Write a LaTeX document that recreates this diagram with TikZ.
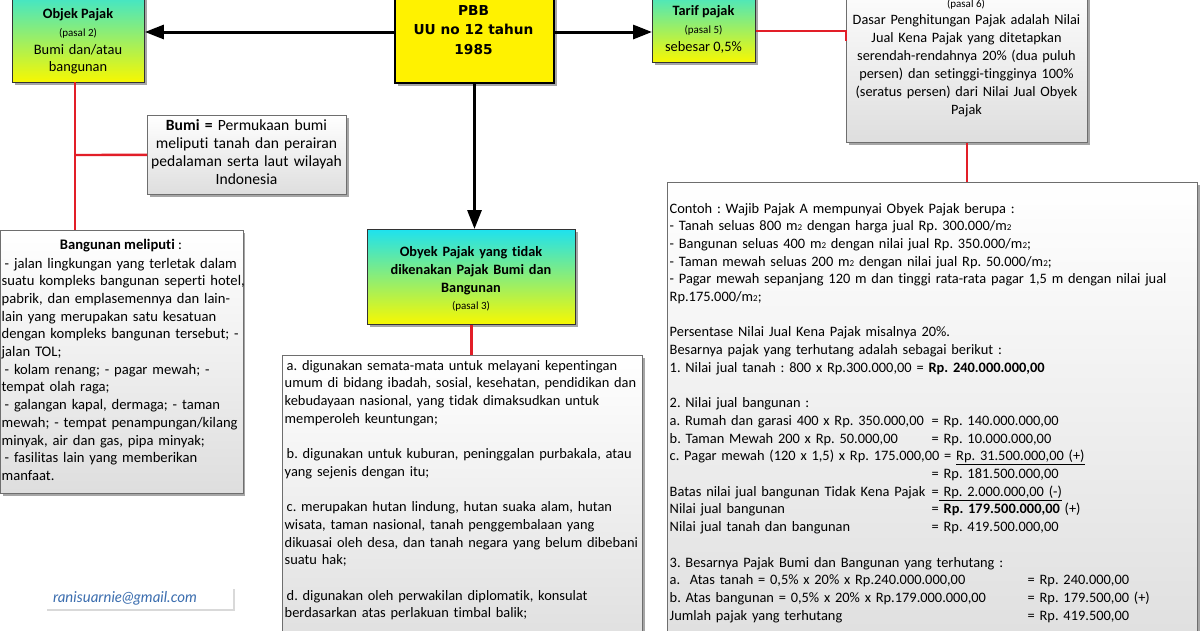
\documentclass[tikz,border=0pt]{standalone}
\usepackage{fontspec}
\setmainfont{Carlito}[Ligatures=NoCommon]
\newfontfamily\pbbfont{DejaVu Sans}
\newfontfamily\mailfont{Lato}
\usetikzlibrary{arrows.meta,shadows}
\frenchspacing
\definecolor{gcyan}{RGB}{30,226,238}
\definecolor{gyellow}{RGB}{248,248,0}
\definecolor{lred}{RGB}{226,30,40}
\definecolor{bordergray}{RGB}{110,110,110}
\definecolor{mailblue}{RGB}{60,110,175}
\newcommand{\msq}{m{\fontsize{9}{9}\selectfont 2}}
\newcommand{\colA}[1]{\makebox[262pt][l]{#1}}
\newcommand{\colB}[1]{\makebox[358pt][l]{#1}}
\tikzset{
  shad/.style={drop shadow={shadow xshift=2.5pt,shadow yshift=-2.5pt,fill=black,opacity=.35}},
  gradbox/.style={draw=black!80,line width=0.9pt,top color=gcyan,bottom color=gyellow,shad,inner sep=0pt,anchor=north west},
  graybox/.style={draw=bordergray,line width=0.7pt,top color=white,bottom color=black!13,shad,inner sep=0pt,anchor=north west},
  pbbbox/.style={draw=black,line width=2pt,fill=yellow,shad,inner sep=0pt,anchor=north west},
  arr/.style={line width=3pt,-{Triangle[length=19pt,width=14pt]}},
  redline/.style={draw=lred,line width=2.4pt},
  body/.style={font=\fontsize{14.4}{17.7}\selectfont,inner sep=0pt},
  tit/.style={font=\fontsize{14.3}{17.7}\selectfont\bfseries,inner sep=0pt},
  pasal/.style={font=\fontsize{11}{13}\selectfont,inner sep=0pt},
  pbbtxt/.style={font=\pbbfont\bfseries\fontsize{13.7}{16}\selectfont,inner sep=0pt,anchor=base},
}
\begin{document}
\begin{tikzpicture}[x=1pt,y=-1pt]
\useasboundingbox (0,0) rectangle (1200,630);
\fill[white] (0,0) rectangle (1200,630);
\clip (0,0) rectangle (1200,630);
% ---------- boxes
\node[gradbox,minimum width=132pt,minimum height=102pt] (objek) at (12,-20) {};
\node[pbbbox,minimum width=159pt,minimum height=102pt] (pbb) at (394,-20) {};
\node[gradbox,minimum width=103pt,minimum height=82pt] (tarif) at (652,-20) {};
\node[graybox,minimum width=241pt,minimum height=162pt] (p6) at (846,-20) {};
\node[graybox,minimum width=199pt,minimum height=79pt] (bumi) at (147,115) {};
\node[graybox,minimum width=242pt,minimum height=263pt] (bang) at (0.5,230) {};
\node[gradbox,minimum width=208pt,minimum height=95pt] (obyek) at (367,229) {};
\node[graybox,minimum width=360pt,minimum height=300pt] (list) at (282,355) {};
\node[graybox,minimum width=530pt,minimum height=480pt] (ex) at (667,182) {};
\node[fill=white,drop shadow={shadow xshift=2pt,shadow yshift=-2pt,fill=black,opacity=.15},minimum width=188pt,minimum height=22pt,inner sep=0pt,anchor=north west] (mailbox) at (45,587) {};
% ---------- connectors
\coordinate (rowA) at (0,32);
\coordinate (rowB) at (0,31);
\coordinate (stemTop) at (75,82);
\coordinate (stemBot) at (75,230);
\coordinate (stemMid) at (75,155);
\draw[arr] (pbb.west |- rowA) -- (objek.east |- rowA);
\draw[arr] (pbb.east |- rowA) -- (tarif.west |- rowA);
\draw[redline] (tarif.east |- rowB) -- (p6.west |- rowB) -- ++(0,10);
\draw[arr] (pbb.south) -- (pbb.south |- obyek.north);
\draw[redline] (stemTop) -- (stemBot);
\draw[redline] (stemMid) -- (bumi.west);
\draw[redline] (obyek.south) -- (obyek.south |- list.north);
\draw[redline] (p6.south) -- (p6.south |- ex.north);
% ---------- texts
\node[tit] (objekT) at (78,15) {Objek Pajak};
\node[pasal] (objekP) at (78,33) {(pasal 2)};
\node[body,text width=130pt,align=center,anchor=base] (objekB) at (78,54) {Bumi dan/atau\\bangunan};
\node[pbbtxt] (pbb1) at (473.5,15) {PBB};
\node[pbbtxt] (pbb2) at (473.5,34) {UU no 12 tahun};
\node[pbbtxt] (pbb3) at (473.5,54) {1985};
\node[tit] (tarifT) at (703.5,12) {Tarif pajak};
\node[pasal] (tarifP) at (703.5,30) {(pasal 5)};
\node[body] (tarifB) at (703.5,47) {sebesar 0,5\%};
\node[pasal] (p6P) at (966,4) {(pasal 6)};
\node[body,text width=240pt,align=center,anchor=base,font=\fontsize{14.3}{18}\selectfont] (p6B) at (966.5,24) {Dasar Penghitungan Pajak adalah Nilai\\
Jual Kena Pajak yang ditetapkan\\
serendah-rendahnya 20\% (dua puluh\\
persen) dan setinggi-tingginya 100\%\\
(seratus persen) dari Nilai Jual Obyek\\
Pajak};
\node[body,text width=200pt,align=center,anchor=base,font=\fontsize{15.6}{18.3}\selectfont] (bumiB) at (246.5,130) {\textbf{Bumi =} Permukaan bumi\\
meliputi tanah dan perairan\\
pedalaman serta laut wilayah\\
Indonesia};
\node[body,font=\fontsize{14.6}{17.7}\selectfont] (bangT) at (121,246) {\textbf{Bangunan meliputi} :};
\node[body,text width=300pt,align=left,anchor=base west,font=\fontsize{14.6}{17.7}\selectfont] (bangB) at (1.5,268) {\hspace*{3pt}- jalan lingkungan yang terletak dalam\\
suatu kompleks bangunan seperti hotel,\\
pabrik, dan emplasemennya dan lain-\\
lain yang merupakan satu kesatuan\\
dengan kompleks bangunan tersebut; -\\
jalan TOL;\\
\hspace*{3pt}- kolam renang; - pagar mewah; -\\
tempat olah raga;\\
\hspace*{3pt}- galangan kapal, dermaga; - taman\\
mewah; - tempat penampungan/kilang\\
minyak, air dan gas, pipa minyak;\\
\hspace*{3pt}- fasilitas lain yang memberikan\\
manfaat.};
\node[tit,text width=208pt,align=center,anchor=base,font=\fontsize{14.3}{18}\selectfont\bfseries] (obyekT) at (471,256) {Obyek Pajak yang tidak\\dikenakan Pajak Bumi dan\\Bangunan};
\node[pasal] (obyekP) at (471,306) {(pasal 3)};
\node[body,text width=400pt,align=left,anchor=base west] (listB) at (284.5,370) {\hspace*{2pt}a. digunakan semata-mata untuk melayani kepentingan\\
umum di bidang ibadah, sosial, kesehatan, pendidikan dan\\
kebudayaan nasional, yang tidak dimaksudkan untuk\\
memperoleh keuntungan;\\
~\\
\hspace*{2pt}b. digunakan untuk kuburan, peninggalan purbakala, atau\\
yang sejenis dengan itu;\\
~\\
\hspace*{2pt}c. merupakan hutan lindung, hutan suaka alam, hutan\\
wisata, taman nasional, tanah penggembalaan yang\\
dikuasai oleh desa, dan tanah negara yang belum dibebani\\
suatu hak;\\
~\\
\hspace*{2pt}d. digunakan oleh perwakilan diplomatik, konsulat\\
berdasarkan atas perlakuan timbal balik;};
\node[body,text width=600pt,align=left,anchor=base west] (exB) at (669.5,213) {Contoh : Wajib Pajak A mempunyai Obyek Pajak berupa :\\
- Tanah seluas 800 \msq{} dengan harga jual Rp. 300.000/\msq\\
- Bangunan seluas 400 \msq{} dengan nilai jual Rp. 350.000/\msq;\\
- Taman mewah seluas 200 \msq{} dengan nilai jual Rp. 50.000/\msq;\\
- Pagar mewah sepanjang 120 m dan tinggi rata-rata pagar 1,5 m dengan nilai jual\\
Rp.175.000/\msq;\\
~\\
Persentase Nilai Jual Kena Pajak misalnya 20\%.\\
Besarnya pajak yang terhutang adalah sebagai berikut :\\
1. Nilai jual tanah : 800 x Rp.300.000,00 = \textbf{Rp. 240.000.000,00}\\
~\\
2. Nilai jual bangunan :\\
\colA{a. Rumah dan garasi 400 x Rp. 350.000,00}= Rp. 140.000.000,00\\
\colA{b. Taman Mewah 200 x Rp. 50.000,00}= Rp. 10.000.000,00\\
c. Pagar mewah (120 x 1,5) x Rp. 175.000,00 = \underline{Rp. 31.500.000,00 (+)}\\
\colA{}= Rp. 181.500.000,00\\
\colA{Batas nilai jual bangunan Tidak Kena Pajak}=\underline{\ Rp. 2.000.000,00 (-)}\\
\colA{Nilai jual bangunan}= \textbf{Rp. 179.500.000,00} (+)\\
\colA{Nilai jual tanah dan bangunan}= Rp. 419.500.000,00\\
~\\
3. Besarnya Pajak Bumi dan Bangunan yang terhutang :\\
\colB{a.\ \ Atas tanah = 0,5\% x 20\% x Rp.240.000.000,00}= Rp. 240.000,00\\
\colB{b. Atas bangunan = 0,5\% x 20\% x Rp.179.000.000,00}= Rp. 179.500,00 (+)\\
\colB{Jumlah pajak yang terhutang}= Rp. 419.500,00};
\node[font=\mailfont\itshape\fontsize{15}{17}\selectfont,text=mailblue,inner sep=0pt] (mail) at (125,598) {ranisuarnie@gmail.com};
\end{tikzpicture}
\end{document}
